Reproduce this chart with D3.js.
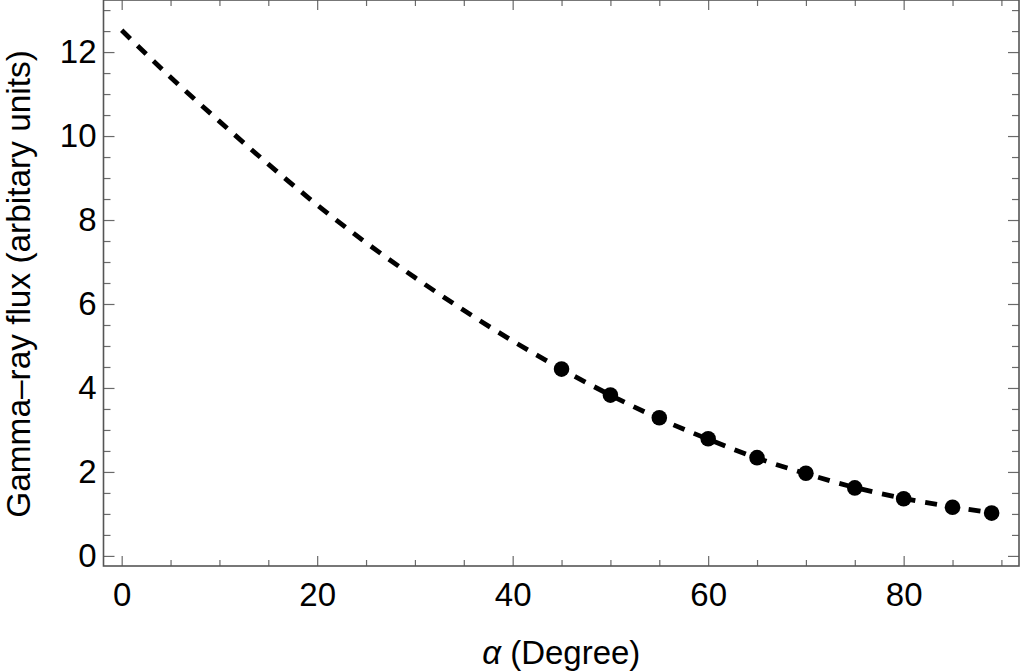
<!DOCTYPE html>
<html>
<head>
<meta charset="utf-8">
<script src="https://cdn.jsdelivr.net/npm/d3@7"></script>
<style>
  body { margin: 0; background: #fff; }
  svg { display: block; font-family: "Liberation Sans", Arial, sans-serif; }
</style>
</head>
<body>
<div id="chart"></div>
<script>
// fitted curve (dashed)
const curveAlpha = [0, 5, 10, 15, 20, 25, 30, 35, 40, 45, 50, 55, 60, 65, 70, 75, 80, 85, 89];
const curveFlux = [12.52, 11.4, 10.35, 9.33, 8.36, 7.46, 6.63, 5.85, 5.12, 4.45, 3.83, 3.27, 2.78, 2.33, 1.96, 1.63, 1.37, 1.17, 1.03];

// measured points
const pointAlpha = [45, 50, 55, 60, 65, 70, 75, 80, 85, 89];
const pointFlux = [4.45, 3.83, 3.29, 2.79, 2.34, 1.97, 1.62, 1.36, 1.16, 1.02];

const xMajor = [0, 20, 40, 60, 80];
const yMajor = [0, 2, 4, 6, 8, 10, 12];

const width = 1020;
const height = 672;
const plotLeft = 103.5, plotRight = 1019, plotTop = 0, plotBottom = 566;

const svg = d3.select("#chart").append("svg")
  .attr("width", width)
  .attr("height", height);

const x = d3.scaleLinear().domain([-1.86, 91.8]).range([plotLeft, plotRight]);
const y = d3.scaleLinear().domain([-0.24, 13.24]).range([plotBottom, plotTop]);

const xMinor = d3.range(0, 91, 5).filter((d) => d % 20 !== 0);
const yMinor = d3.range(0, 13.01, 0.5).filter((d) => d % 2 !== 0);

const tickColor = "#6a6a6a";

function styleAxis(g) {
  g.select(".domain").remove();
  g.selectAll("line").attr("stroke", tickColor).attr("stroke-width", 1.2);
  g.selectAll("text").attr("fill", "#000").style("font-size", "33px");
}

// bottom
svg.append("g").attr("transform", `translate(0,${plotBottom})`)
  .call(d3.axisBottom(x).tickValues(xMajor).tickSizeInner(-10).tickSizeOuter(0).tickPadding(17).tickFormat(d3.format("d")))
  .call(styleAxis);
svg.append("g").attr("transform", `translate(0,${plotBottom})`)
  .call(d3.axisBottom(x).tickValues(xMinor).tickSizeInner(-6).tickSizeOuter(0).tickFormat(""))
  .call(styleAxis);
// top
svg.append("g").attr("transform", `translate(0,${plotTop})`)
  .call(d3.axisTop(x).tickValues(xMajor).tickSizeInner(-10).tickSizeOuter(0).tickFormat(""))
  .call(styleAxis);
svg.append("g").attr("transform", `translate(0,${plotTop})`)
  .call(d3.axisTop(x).tickValues(xMinor).tickSizeInner(-6).tickSizeOuter(0).tickFormat(""))
  .call(styleAxis);
// left
svg.append("g").attr("transform", `translate(${plotLeft},0)`)
  .call(d3.axisLeft(y).tickValues(yMajor).tickSizeInner(-11).tickSizeOuter(0).tickPadding(7).tickFormat(d3.format("d")))
  .call(styleAxis);
svg.append("g").attr("transform", `translate(${plotLeft},0)`)
  .call(d3.axisLeft(y).tickValues(yMinor).tickSizeInner(-7).tickSizeOuter(0).tickFormat(""))
  .call(styleAxis);
// right
svg.append("g").attr("transform", `translate(${plotRight},0)`)
  .call(d3.axisRight(y).tickValues(yMajor).tickSizeInner(-11).tickSizeOuter(0).tickFormat(""))
  .call(styleAxis);
svg.append("g").attr("transform", `translate(${plotRight},0)`)
  .call(d3.axisRight(y).tickValues(yMinor).tickSizeInner(-7).tickSizeOuter(0).tickFormat(""))
  .call(styleAxis);

// frame
svg.append("rect")
  .attr("x", plotLeft).attr("y", plotTop)
  .attr("width", plotRight - plotLeft).attr("height", plotBottom - plotTop)
  .attr("fill", "none")
  .attr("stroke", "#555")
  .attr("stroke-width", 1.6);

// dashed curve
const line = d3.line()
  .x((d, i) => x(curveAlpha[i]))
  .y((d) => y(d))
  .curve(d3.curveMonotoneX);

svg.append("path")
  .attr("d", line(curveFlux))
  .attr("fill", "none")
  .attr("stroke", "#000")
  .attr("stroke-width", 4.8)
  .attr("stroke-dasharray", "12,10");

// points
svg.append("g").selectAll("circle")
  .data(pointFlux)
  .enter()
  .append("circle")
  .attr("cx", (d, i) => x(pointAlpha[i]))
  .attr("cy", (d) => y(d))
  .attr("r", 7.8)
  .attr("fill", "#000");

// axis titles
const xTitle = svg.append("text")
  .attr("x", (plotLeft + plotRight) / 2)
  .attr("y", 664)
  .attr("text-anchor", "middle")
  .style("font-size", "33px");
xTitle.append("tspan").attr("font-style", "italic").text("α");
xTitle.append("tspan").text(" (Degree)");

svg.append("text")
  .attr("transform", "translate(30,284) rotate(-90)")
  .attr("text-anchor", "middle")
  .style("font-size", "33.4px")
  .text("Gamma–ray flux (arbitary units)");
</script>
</body>
</html>
